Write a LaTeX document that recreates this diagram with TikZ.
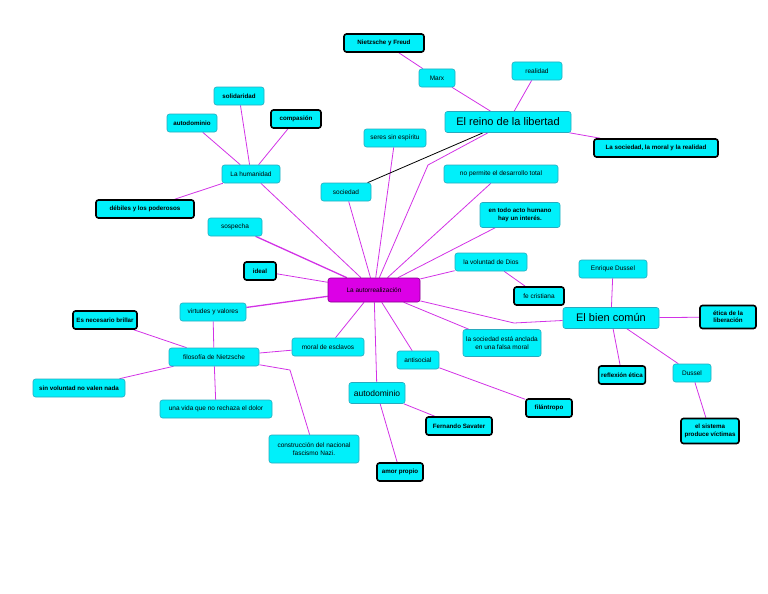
\documentclass[tikz,border=0pt]{standalone}
\usepackage{fontspec}
\setmainfont{Liberation Sans}
\usetikzlibrary{backgrounds}
\definecolor{cy}{RGB}{0,240,250}
\definecolor{cyb}{RGB}{40,170,190}
\definecolor{mg}{RGB}{220,0,230}
\definecolor{ml}{RGB}{210,50,230}
\begin{document}
\begin{tikzpicture}[x=1pt,y=-1pt,
 nd/.style={draw=cyb,fill=cy,rounded corners=2.5pt,line width=0.6pt,inner xsep=2.5pt,inner ysep=1pt,font=\fontsize{6.5}{7.5}\selectfont,align=center,minimum height=18pt},
 bnd/.style={nd,draw=black,line width=1.6pt,font=\fontsize{6.2}{7.5}\selectfont\bfseries},
 ln/.style={draw=ml,line width=0.8pt},
 thk/.style={ln,line width=1.3pt}]
\useasboundingbox (0,0) rectangle (768,594);
\coordinate (k1) at (428,165);
\coordinate (k2) at (514,323);
\coordinate (k3) at (290,370);
\node[nd,fill=mg,draw=mg!60!black,minimum width=92pt,minimum height=24pt] (c) at (374,290) {La autorrealización};
\node[bnd,minimum width=80pt] (nyf) at (384,43) {Nietzsche y Freud};
\node[nd,minimum width=36pt] (marx) at (437,78) {Marx};
\node[nd,minimum width=50pt] (real) at (537,71) {realidad};
\node[nd,minimum width=126pt,minimum height=21pt,font=\fontsize{11}{12}\selectfont] (reino) at (508,122) {El reino de la libertad};
\node[bnd,minimum width=124pt] (smr) at (656,148) {La sociedad, la moral y la realidad};
\node[nd,minimum width=62pt] (seres) at (395,138) {seres sin espíritu};
\node[nd,minimum width=50pt] (soc) at (346,192) {sociedad};
\node[nd,minimum width=114pt] (nop) at (501,174) {no permite el desarrollo total};
\node[nd,minimum width=80pt,minimum height=25pt,font=\fontsize{6.2}{7.5}\selectfont\bfseries] (todo) at (520,215) {en todo acto humano\\hay un interés.};
\node[nd,minimum width=72pt] (vol) at (491,262) {la voluntad de Dios};
\node[bnd,minimum width=50pt,font=\fontsize{6.5}{7.5}\selectfont] (fe) at (539,296) {fe cristiana};
\node[nd,minimum width=68pt] (enr) at (613,269) {Enrique Dussel};
\node[nd,minimum width=96pt,minimum height=21pt,font=\fontsize{11}{12}\selectfont] (bien) at (611,318) {El bien común};
\node[bnd,minimum width=56pt,minimum height=23pt] (etica) at (728,317) {ética de la\\liberación};
\node[bnd,minimum width=44pt] (refl) at (622,375) {reflexión ética};
\node[nd,minimum width=38pt] (dus) at (692,373) {Dussel};
\node[bnd,minimum width=58pt,minimum height=25pt] (sist) at (710,431) {el sistema\\produce víctimas};
\node[nd,minimum width=78pt,minimum height=27pt] (anc) at (502,343) {la sociedad está anclada\\en una falsa moral};
\node[nd,minimum width=42pt] (anti) at (418,360) {antisocial};
\node[bnd,minimum width=46pt] (fil) at (549,408) {filántropo};
\node[nd,minimum width=56pt,minimum height=21pt,font=\fontsize{8.5}{10}\selectfont] (aut2) at (377,393) {autodominio};
\node[bnd,minimum width=66pt] (fer) at (459,426) {Fernando Savater};
\node[bnd,minimum width=46pt] (amor) at (400,472) {amor propio};
\node[nd,minimum width=72pt] (mor) at (328,347) {moral de esclavos};
\node[nd,minimum width=66pt] (virt) at (213,312) {virtudes y valores};
\node[nd,minimum width=90pt] (filo) at (214,357) {filosofía de Nietzsche};
\node[bnd,minimum width=64pt] (nec) at (105,320) {Es necesario brillar};
\node[nd,minimum width=92pt,font=\fontsize{6.2}{7.5}\selectfont\bfseries] (sinv) at (79,388) {sin voluntad no valen nada};
\node[nd,minimum width=112pt] (vida) at (216,409) {una vida que no rechaza el dolor};
\node[nd,minimum width=90pt,minimum height=28pt] (cons) at (314,449) {construcción del nacional\\fascismo Nazi.};
\node[bnd,minimum width=32pt] (ideal) at (260,271) {ideal};
\node[nd,minimum width=54pt] (sos) at (235,227) {sospecha};
\node[nd,minimum width=58pt] (hum) at (251,174) {La humanidad};
\node[bnd,minimum width=98pt] (deb) at (145,209) {débiles y los poderosos};
\node[nd,minimum width=50pt,font=\fontsize{6.2}{7.5}\selectfont\bfseries] (aut1) at (192,123) {autodominio};
\node[nd,minimum width=50pt,font=\fontsize{6.2}{7.5}\selectfont\bfseries] (sol) at (239,96) {solidaridad};
\node[bnd,minimum width=50pt] (comp) at (296,119) {compasión};
\begin{scope}[on background layer]
\draw[ln] (c) -- (hum);
\draw[thk] (c) -- (sos);
\draw[ln] (c) -- (ideal);
\draw[thk] (c) -- (virt);
\draw[ln] (c) -- (soc);
\draw[ln] (c) -- (seres);
\draw[ln] (c) -- (k1) -- (reino);
\draw[ln] (c) -- (nop);
\draw[ln] (c) -- (todo);
\draw[ln] (c) -- (vol);
\draw[ln] (c) -- (k2) -- (bien);
\draw[ln] (c) -- (anc);
\draw[ln] (c) -- (anti);
\draw[ln] (c) -- (aut2);
\draw[ln] (c) -- (mor);
\draw[ln] (mor) -- (filo);
\draw[black,line width=0.8pt] (soc) -- (reino);
\draw[ln] (reino) -- (marx);
\draw[ln] (marx) -- (nyf);
\draw[ln] (reino) -- (real);
\draw[ln] (reino) -- (smr);
\draw[ln] (vol) -- (fe);
\draw[ln] (bien) -- (enr);
\draw[ln] (bien) -- (etica);
\draw[ln] (bien) -- (refl);
\draw[ln] (bien) -- (dus);
\draw[ln] (dus) -- (sist);
\draw[ln] (anti) -- (fil);
\draw[ln] (aut2) -- (fer);
\draw[ln] (aut2) -- (amor);
\draw[ln] (filo) -- (virt);
\draw[ln] (filo) -- (nec);
\draw[ln] (filo) -- (sinv);
\draw[ln] (filo) -- (vida);
\draw[ln] (filo) -- (k3) -- (cons);
\draw[ln] (hum) -- (aut1);
\draw[ln] (hum) -- (sol);
\draw[ln] (hum) -- (comp);
\draw[ln] (hum) -- (deb);
\end{scope}
\end{tikzpicture}
\end{document}
